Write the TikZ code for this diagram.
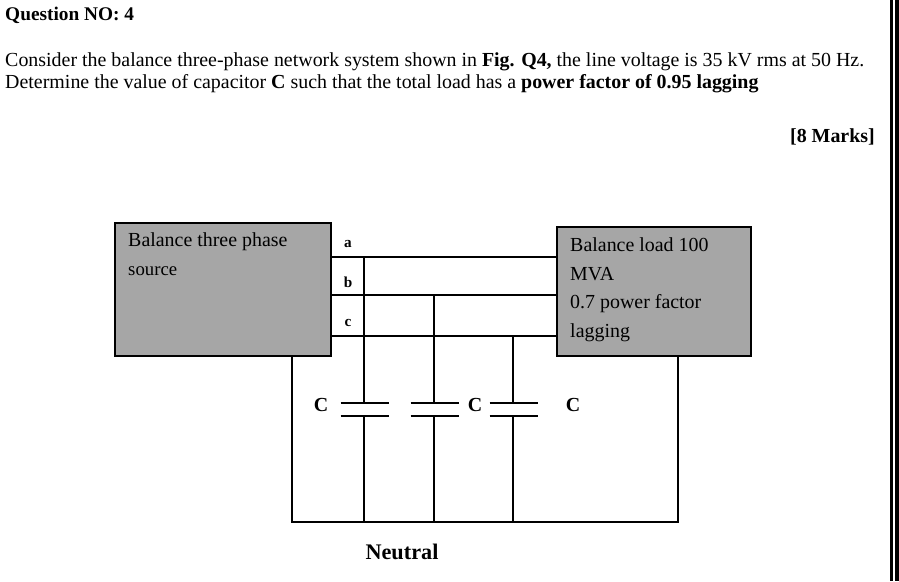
\documentclass[tikz,border=0pt]{standalone}
\usepackage{fontspec}
\setmainfont{Liberation Serif}
\usetikzlibrary{positioning}
\tikzset{
  wire/.style={line width=1.3pt},
  blk/.style={draw,line width=0.9pt,fill=gray!70},
  txt/.style={anchor=west,inner sep=0pt,font=\fontsize{17pt}{20pt}\selectfont},
  boxtxt/.style={anchor=west,inner sep=0pt,font=\fontsize{17pt}{20pt}\selectfont},
  lbl/.style={inner sep=0pt,font=\fontsize{17pt}{20pt}\selectfont\bfseries},
  plate/.style={line width=1.5pt}
}
\begin{document}
\begin{tikzpicture}[x=0.03cm,y=-0.03cm]
  \useasboundingbox (0,0) rectangle (899,581);
  \fill[white] (0,0) rectangle (899,581);
  \fill[black] (890,0) rectangle (893,581);
  \fill[black] (895,0) rectangle (899,581);
  % header text
  \node[txt,font=\fontsize{16.5pt}{20pt}\selectfont\bfseries] (qno) at (5,15) {Question NO: 4};
  \node[txt] (line1) at (5,62) {Consider the balance three-phase network system shown in \textbf{Fig. Q4,} the line voltage is 35 kV rms at 50 Hz.};
  \node[txt] (line2) at (5,84) {Determine the value of capacitor \textbf{C} such that the total load has a \textbf{power factor of 0.95 lagging}};
  \node[txt,anchor=east,font=\fontsize{17pt}{20pt}\selectfont\bfseries] (marks) at (875,137) {[8 Marks]};
  % blocks
  \draw[blk] (115,223) rectangle (331,356);
  \draw[blk] (557,227) rectangle (751,356);
  \node[boxtxt] (src1) at (128,242) {Balance three phase};
  \node[boxtxt,font=\fontsize{16pt}{20pt}\selectfont] (src2) at (128,271) {source};
  \node[boxtxt] (ld1) at (570,245) {Balance load 100};
  \node[boxtxt] (ld2) at (570,274) {MVA};
  \node[boxtxt] (ld3) at (570,304) {0.7 power factor};
  \node[boxtxt] (ld4) at (570,333) {lagging};
  % phase lines
  \coordinate (aL) at (331,257); \coordinate (aR) at (557,257);
  \coordinate (bL) at (331,295); \coordinate (bR) at (557,295);
  \coordinate (cL) at (331,336); \coordinate (cR) at (557,336);
  \draw[wire] (aL) -- (aR); \draw[wire] (bL) -- (bR); \draw[wire] (cL) -- (cR);
  \node[lbl,font=\fontsize{13pt}{15pt}\selectfont\bfseries] (la) at (348,244) {a};
  \node[lbl,font=\fontsize{13pt}{15pt}\selectfont\bfseries] (lb) at (348,282) {b};
  \node[lbl,font=\fontsize{13pt}{15pt}\selectfont\bfseries] (lc) at (348,323) {c};
  % capacitors
  \foreach \name/\x/\y in {ca/364/257, cb/434/295, cc/513/336} {
    \coordinate (\name top) at (\x,\y);
    \coordinate (\name p1) at (\x,403);
    \coordinate (\name p2) at (\x,416);
    \coordinate (\name bot) at (\x,522);
    \draw[wire] (\name top) -- (\name p1);
    \draw[plate] ([xshift=-20]\name p1) -- ([xshift=21]\name p1);
    \draw[plate] ([xshift=-20]\name p2) -- ([xshift=21]\name p2);
    \draw[wire] (\name p2) -- (\name bot);
  }
  % neutral return
  \coordinate (srcB) at (292,356); \coordinate (ldB) at (678,356);
  \coordinate (nL) at (292,522); \coordinate (nR) at (678,522);
  \draw[wire] (srcB) -- (nL) -- (nR) -- (ldB);
  \node[lbl] (c1) at (321,405) {C};
  \node[lbl] (c2) at (475,405) {C};
  \node[lbl] (c3) at (573,405) {C};
  \node[lbl,font=\fontsize{19pt}{22pt}\selectfont\bfseries] (neutral) at (402,552) {Neutral};
\end{tikzpicture}
\end{document}
